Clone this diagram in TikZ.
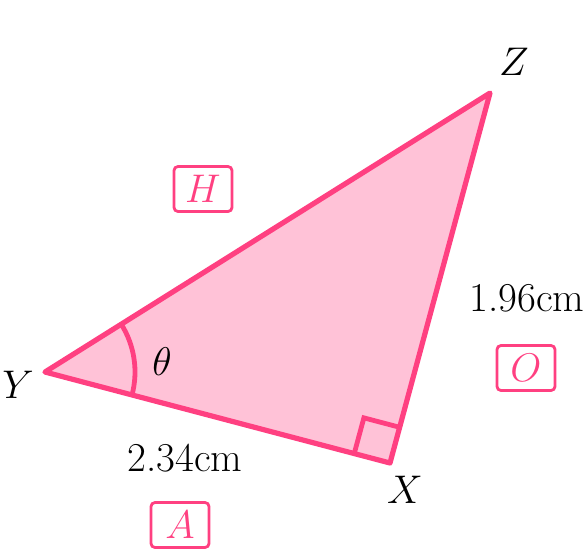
\RequirePackage{fix-cm}
\documentclass[tikz,border=0pt]{standalone}
\usetikzlibrary{calc}
\definecolor{pinkline}{RGB}{255,64,129}
\definecolor{pinkfill}{RGB}{255,194,215}
\begin{document}
\begin{tikzpicture}[x=1pt,y=-1pt,
  lbl/.style={font=\fontsize{40}{48}\selectfont},
  numlbl/.style={font=\fontsize{41}{49}\selectfont},
  sidebox/.style={draw=pinkline,line width=2.8pt,rounded corners=4pt,minimum width=58pt,minimum height=45pt,inner sep=0pt,text=pinkline,font=\fontsize{40}{48}\selectfont},
  edge/.style={draw=pinkline,line width=5.2pt,line join=round}]
\useasboundingbox (0,0) rectangle (588,554);
\coordinate (Y) at (45,372);
\coordinate (Z) at (490,93);
\coordinate (X) at (390,463);
\fill[pinkfill] (Y) -- (Z) -- (X) -- cycle;
% angle arc
\draw[pinkline,line width=4.8pt] ($(Y)!90pt!(Z)$) arc[start angle={atan2(-(93-372),490-45)}, end angle={atan2(-(463-372),390-45)}, radius=90pt];
% right angle square
\coordinate (P) at ($(X)!37pt!(Y)$);
\coordinate (Q) at ($(X)!37pt!(Z)$);
\draw[pinkline,line width=4.8pt,line join=miter] (P) -- ($(P)+(Q)-(X)$) -- (Q);
\path[edge] (Y) -- (Z) -- (X) -- cycle;
\node[lbl] (ly) at (18,385) {$Y$};
\node[lbl] (lz) at (514,62) {$Z$};
\node[lbl] (lx) at (405,490) {$X$};
\node[lbl] (lt) at (162,362) {$\theta$};
\node[numlbl] (lo) at (527,298) {1.96cm};
\node[numlbl] (la) at (185,458) {2.34cm};
\node[sidebox] (bh) at (203,189) {$H$};
\node[sidebox] (bo) at (526,368) {$O$};
\node[sidebox] (ba) at (180,525) {$A$};
\end{tikzpicture}
\end{document}
